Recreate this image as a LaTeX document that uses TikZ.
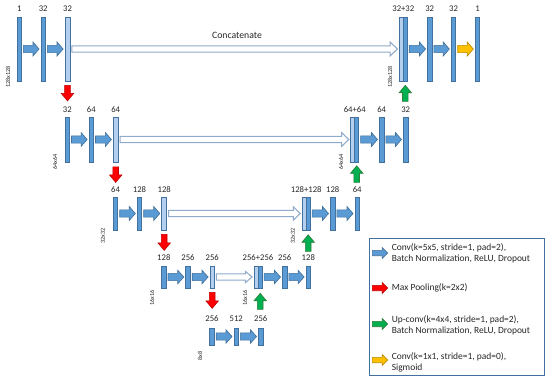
\documentclass[tikz,border=0pt]{standalone}
\usepackage{fontspec}
\setmainfont{Carlito}
\usetikzlibrary{calc}
\definecolor{barfill}{HTML}{5B9BD5}
\definecolor{barline}{HTML}{41719C}
\definecolor{lightfill}{HTML}{B4D0EE}
\definecolor{hollowline}{HTML}{8FAACB}
\definecolor{redfill}{HTML}{FF0000}
\definecolor{redline}{HTML}{C00000}
\definecolor{greenfill}{HTML}{00B050}
\definecolor{greenline}{HTML}{2F7D3A}
\definecolor{yellowfill}{HTML}{FFC000}
\definecolor{yellowline}{HTML}{BC8C00}
\definecolor{txt}{HTML}{262626}
% horizontal block arrow: style, start, end, body half-height, head half-height, head length
\newcommand\harr[6]{\draw[#1] let \p1=#2, \p2=#3 in
  (\x1+1.2pt,\y1+#4) -- (\x2-1.2pt-#6,\y1+#4) -- (\x2-1.2pt-#6,\y1+#5) -- (\x2-1.2pt,\y1)
  -- (\x2-1.2pt-#6,\y1-#5) -- (\x2-1.2pt-#6,\y1-#4) -- (\x1+1.2pt,\y1-#4) -- cycle;}
% vertical block arrows
\newcommand\ArrBW{2.1pt}
\newcommand\ArrHW{4.65pt}
\newcommand\ArrHL{5.6pt}
\newcommand\darr[3]{\draw[#1] let \p1=#2, \p2=#3 in
  (\x1-\ArrBW,\y1) -- (\x1-\ArrBW,\y2+\ArrHL) -- (\x1-\ArrHW,\y2+\ArrHL) -- (\x1,\y2)
  -- (\x1+\ArrHW,\y2+\ArrHL) -- (\x1+\ArrBW,\y2+\ArrHL) -- (\x1+\ArrBW,\y1) -- cycle;}
\newcommand\uarr[3]{\draw[#1] let \p1=#2, \p2=#3 in
  (\x1-\ArrBW,\y1) -- (\x1-\ArrBW,\y2-\ArrHL) -- (\x1-\ArrHW,\y2-\ArrHL) -- (\x1,\y2)
  -- (\x1+\ArrHW,\y2-\ArrHL) -- (\x1+\ArrBW,\y2-\ArrHL) -- (\x1+\ArrBW,\y1) -- cycle;}
\tikzset{
  bar/.style={draw=barline, fill=barfill, line width=0.5pt, inner sep=0pt, minimum width=3.4pt},
  lbar/.style={bar, fill=lightfill},
  half/.style={minimum width=3pt},
  Lone/.style={minimum height=48pt},
  Ltwo/.style={minimum height=33.75pt},
  Lthree/.style={minimum height=24.75pt},
  Lfour/.style={minimum height=16.5pt},
  Lfive/.style={minimum height=12.75pt},
  lbl/.style={font=\fontsize{6.5}{7}\selectfont, text=txt, inner sep=0pt},
  dimlbl/.style={font=\fontsize{4.6}{5}\selectfont, text=txt, rotate=90, inner sep=0pt},
  leg/.style={font=\fontsize{7.1}{8.1}\selectfont, text=txt, inner sep=0pt, align=left, anchor=west},
  conv/.style={draw=barline, fill=barfill, line width=0.5pt},
  pool/.style={draw=redline, fill=redfill, line width=0.5pt},
  upconv/.style={draw=greenline, fill=greenfill, line width=0.5pt},
  finalconv/.style={draw=yellowline, fill=yellowfill, line width=0.5pt},
  hollow/.style={draw=hollowline, fill=white, line width=0.8pt},
}
\begin{document}
\begin{tikzpicture}[x=0.75pt, y=-0.75pt]
\useasboundingbox (0,0) rectangle (550,382);

% ---------- level 1 ----------
\node[bar,Lone] (b11) at (19.2,49) {};
\node[bar,Lone] (b12) at (43.2,49) {};
\node[lbar,Lone,minimum width=3.75pt] (b13) at (67.5,49) {};
\node[lbar,Lone,half] (c1l) at (401.3,49) {};
\node[bar,Lone,half] (c1d) at (405.3,49) {};
\node[bar,Lone] (b14) at (429.7,49) {};
\node[bar,Lone] (b15) at (453.5,49) {};
\node[bar,Lone] (b16) at (477.5,49) {};
\node[lbl] (l11) at (19.2,9) {1};
\node[lbl] (l12) at (43.2,9) {32};
\node[lbl] (l13) at (67.5,9) {32};
\node[lbl] (l14) at (403.3,9) {32+32};
\node[lbl] (l15) at (429.7,9) {32};
\node[lbl] (l16) at (453.5,9) {32};
\node[lbl] (l17) at (477.5,9) {1};
\node[dimlbl] (d11) at (8,77) {128x128};
\node[dimlbl] (d12) at (390,77) {128x128};
\node[font=\fontsize{7.3}{8}\selectfont, text=txt, inner sep=0pt] (cc) at (237,35) {Concatenate};
\harr{conv}{(b11.east)}{(b12.west)}{2.7pt}{5.2pt}{4.5pt}
\harr{conv}{(b12.east)}{(b13.west)}{2.7pt}{5.2pt}{4.5pt}
\harr{hollow}{(b13.east)}{(c1l.west)}{2.4pt}{5.2pt}{5.4pt}
\harr{conv}{(c1d.east)}{(b14.west)}{2.7pt}{5.2pt}{4.5pt}
\harr{conv}{(b14.east)}{(b15.west)}{2.7pt}{5.2pt}{4.5pt}
\harr{finalconv}{(b15.east)}{(b16.west)}{2.7pt}{5.2pt}{4.5pt}
\darr{pool}{($(b13.south)+(0,4)$)}{($(b13.south)+(0,19.5)$)}
\uarr{upconv}{($(c1d.south)+(0,20)$)}{($(c1d.south)+(0,4)$)}

% ---------- level 2 ----------
\node[bar,Ltwo] (b21) at (67.3,139.5) {};
\node[bar,Ltwo] (b22) at (91.3,139.5) {};
\node[lbar,Ltwo,minimum width=3.6pt] (b23) at (115.7,139.5) {};
\node[lbar,Ltwo,half] (c2l) at (352.7,139.5) {};
\node[bar,Ltwo,half] (c2d) at (356.7,139.5) {};
\node[bar,Ltwo] (b24) at (381.7,139.5) {};
\node[bar,Ltwo] (b25) at (405.7,139.5) {};
\node[lbl] (l21) at (67.3,110) {32};
\node[lbl] (l22) at (91.3,110) {64};
\node[lbl] (l23) at (115.7,110) {64};
\node[lbl] (l24) at (354.7,110) {64+64};
\node[lbl] (l25) at (381.7,110) {64};
\node[lbl] (l26) at (405.7,110) {32};
\node[dimlbl] (d21) at (55,162) {64x64};
\node[dimlbl] (d22) at (341,162) {64x64};
\harr{conv}{(b21.east)}{(b22.west)}{2.7pt}{5.2pt}{4.5pt}
\harr{conv}{(b22.east)}{(b23.west)}{2.7pt}{5.2pt}{4.5pt}
\harr{hollow}{(b23.east)}{(c2l.west)}{2.4pt}{5.2pt}{5.4pt}
\harr{conv}{(c2d.east)}{(b24.west)}{2.7pt}{5.2pt}{4.5pt}
\harr{conv}{(b24.east)}{(b25.west)}{2.7pt}{5.2pt}{4.5pt}
\darr{pool}{($(b23.south)+(0,4.5)$)}{($(b23.south)+(0,20)$)}
\uarr{upconv}{($(c2d.south)+(0,20)$)}{($(c2d.south)+(0,3.5)$)}

% ---------- level 3 ----------
\node[bar,Lthree] (b31) at (115.5,213.5) {};
\node[bar,Lthree] (b32) at (139.5,213.5) {};
\node[lbar,Lthree,minimum width=3.75pt] (b33) at (164.2,213.5) {};
\node[lbar,Lthree,half] (c3l) at (304.2,213.5) {};
\node[bar,Lthree,half] (c3d) at (308.2,213.5) {};
\node[bar,Lthree] (b34) at (332.7,213.5) {};
\node[bar,Lthree] (b35) at (357.2,213.5) {};
\node[lbl] (l31) at (115.5,190) {64};
\node[lbl] (l32) at (139.5,190) {128};
\node[lbl] (l33) at (164.2,190) {128};
\node[lbl] (l34) at (306.2,190) {128+128};
\node[lbl] (l35) at (332.7,190) {128};
\node[lbl] (l36) at (357.2,190) {64};
\node[dimlbl] (d31) at (103,236) {32x32};
\node[dimlbl] (d32) at (293,236) {32x32};
\harr{conv}{(b31.east)}{(b32.west)}{2.7pt}{5.2pt}{4.5pt}
\harr{conv}{(b32.east)}{(b33.west)}{2.7pt}{5.2pt}{4.5pt}
\harr{hollow}{(b33.east)}{(c3l.west)}{2.4pt}{5pt}{5.2pt}
\harr{conv}{(c3d.east)}{(b34.west)}{2.7pt}{5.2pt}{4.5pt}
\harr{conv}{(b34.east)}{(b35.west)}{2.7pt}{5.2pt}{4.5pt}
\darr{pool}{($(b33.south)+(0,4)$)}{($(b33.south)+(0,20)$)}
\uarr{upconv}{($(c3d.south)+(0,21)$)}{($(c3d.south)+(0,4.5)$)}

% ---------- level 4 ----------
\node[bar,Lfour] (b41) at (163.8,277) {};
\node[bar,Lfour] (b42) at (188,277) {};
\node[lbar,Lfour,minimum width=3.3pt] (b43) at (212.2,277) {};
\node[lbar,Lfour,half] (c4l) at (256,277) {};
\node[bar,Lfour,half] (c4d) at (260.2,277) {};
\node[bar,Lfour] (b44) at (284.7,277) {};
\node[bar,Lfour] (b45) at (308.3,277) {};
\node[lbl] (l41) at (163.8,258) {128};
\node[lbl] (l42) at (188,258) {256};
\node[lbl] (l43) at (212.2,258) {256};
\node[lbl] (l44) at (258,258) {256+256};
\node[lbl] (l45) at (284.7,258) {256};
\node[lbl] (l46) at (308.3,258) {128};
\node[dimlbl] (d41) at (152,298) {16x16};
\node[dimlbl] (d42) at (245,298) {16x16};
\harr{conv}{(b41.east)}{(b42.west)}{2.7pt}{5pt}{4.5pt}
\harr{conv}{(b42.east)}{(b43.west)}{2.7pt}{5pt}{4.5pt}
\harr{hollow}{(b43.east)}{(c4l.west)}{2.3pt}{4.2pt}{5pt}
\harr{conv}{(c4d.east)}{(b44.west)}{2.7pt}{5pt}{4.5pt}
\harr{conv}{(b44.east)}{(b45.west)}{2.7pt}{5pt}{4.5pt}
\darr{pool}{($(b43.south)+(0,4)$)}{($(b43.south)+(0,20)$)}
\uarr{upconv}{($(c4d.south)+(0,21)$)}{($(c4d.south)+(0,5)$)}

% ---------- level 5 ----------
\node[bar,Lfive] (b51) at (212,336.5) {};
\node[bar,Lfive] (b52) at (236.2,336.5) {};
\node[bar,Lfive] (b53) at (260.7,336.5) {};
\node[lbl] (l51) at (212,319) {256};
\node[lbl] (l52) at (236.2,319) {512};
\node[lbl] (l53) at (260.7,319) {256};
\node[dimlbl] (d51) at (200,356) {8x8};
\harr{conv}{(b51.east)}{(b52.west)}{2.7pt}{5pt}{4.5pt}
\harr{conv}{(b52.east)}{(b53.west)}{2.7pt}{5pt}{4.5pt}

% ---------- legend ----------
\node[draw=barline, line width=0.6pt, inner sep=0pt, minimum width=131.25pt, minimum height=102.75pt] (legend) at (456.5,306.5) {};
\coordinate (ga) at (370.8,253);
\coordinate (gb) at (389.2,253);
\coordinate (ra) at (370.8,288);
\coordinate (rb) at (389.2,288);
\coordinate (ua) at (370.8,324);
\coordinate (ub) at (389.2,324);
\coordinate (ya) at (370.8,360);
\coordinate (yb) at (389.2,360);
\harr{conv}{(ga)}{(gb)}{2pt}{4pt}{4pt}
\harr{pool}{(ra)}{(rb)}{2pt}{4pt}{4pt}
\harr{upconv}{(ua)}{(ub)}{2pt}{4pt}{4pt}
\harr{finalconv}{(ya)}{(yb)}{2pt}{4pt}{4pt}
\node[leg] (t1) at (391.5,253) {Conv(k=5x5, stride=1, pad=2),\\Batch Normalization, ReLU, Dropout};
\node[leg] (t2) at (391.5,288) {Max Pooling(k=2x2)};
\node[leg] (t3) at (391.5,325.5) {Up-conv(k=4x4, stride=1, pad=2),\\Batch Normalization, ReLU, Dropout};
\node[leg] (t4) at (391.5,362) {Conv(k=1x1, stride=1, pad=0),\\Sigmoid};
\end{tikzpicture}
\end{document}
